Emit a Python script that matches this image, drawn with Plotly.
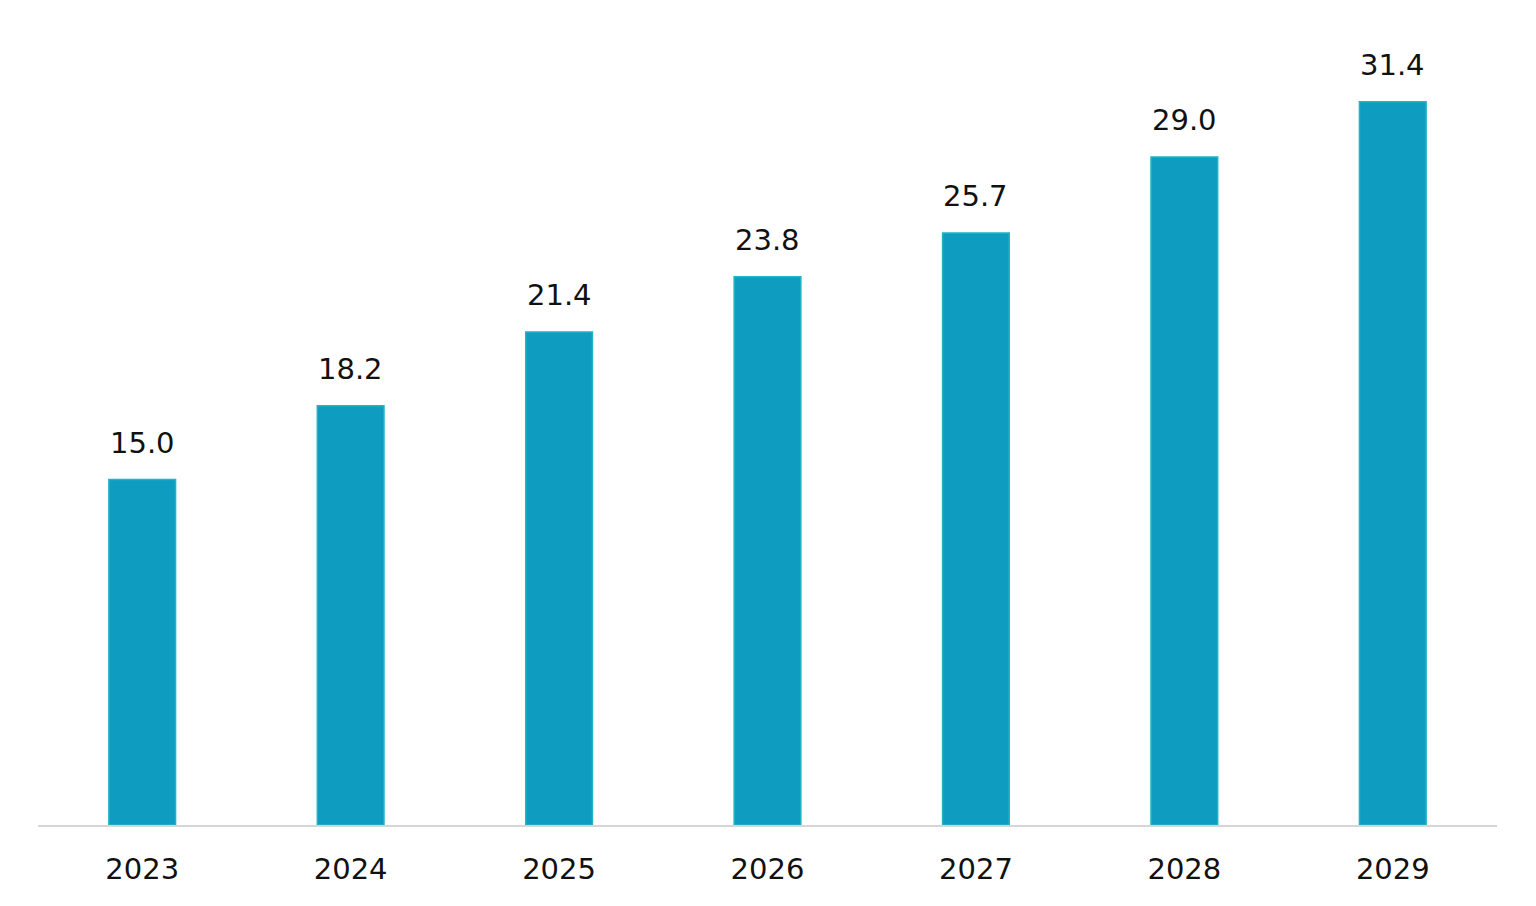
import plotly.graph_objects as go

years = ["2023", "2024", "2025", "2026", "2027", "2028", "2029"]
values = [15.0, 18.2, 21.4, 23.8, 25.7, 29.0, 31.4]
labels = [f"{v:.1f}" for v in values]

FONT = "DejaVu Sans"

fig = go.Figure()
fig.add_trace(go.Bar(
    x=years, y=values,
    marker=dict(color="#0E9DC1", line=dict(color="#22B3C6", width=1.5)),
    hoverinfo="skip",
))

# annotations positioned by category index on the category axis
for i, (y, t) in enumerate(zip(values, labels)):
    fig.add_annotation(x=i, y=y, xref="x", yref="y", text=t, showarrow=False,
                       yanchor="bottom", yshift=18,
                       font=dict(family=FONT, size=29, color="#111111"))

fig.update_layout(
    width=1520, height=890,
    margin=dict(l=30, r=31, t=12, b=70),
    plot_bgcolor="white", paper_bgcolor="white",
    bargap=0.68,
    showlegend=False,
    xaxis=dict(type="category", range=[-0.5, 6.5], showline=True,
               linecolor="#D6D6D6", linewidth=2,
               ticks="outside", ticklen=17, tickcolor="rgba(0,0,0,0)",
               tickfont=dict(family=FONT, size=29, color="#111111"),
               showgrid=False),
    yaxis=dict(range=[0, 34.95], visible=False, showgrid=False),
)

fig.write_html("out.html")
